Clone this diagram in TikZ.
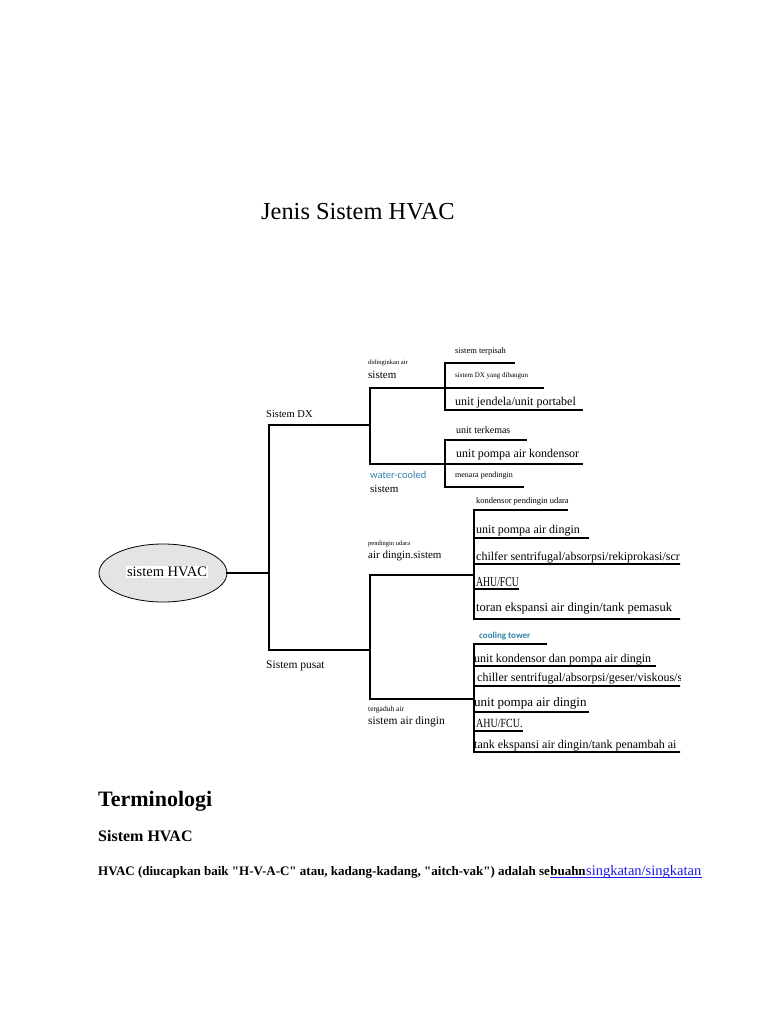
\documentclass[tikz,border=0pt]{standalone}
\usepackage{fontspec}
\setmainfont{Liberation Serif}[Ligatures=TeXOff]
\newfontfamily\cleanfont{Carlito}
\usetikzlibrary{shapes.geometric,positioning}
\definecolor{hvacgray}{RGB}{228,228,228}
\definecolor{cooledblue}{RGB}{47,131,174}
\definecolor{linkblue}{RGB}{25,25,235}
\tikzset{
  branch/.style={
    line width=2pt,
    line cap=rect
  },
  lbl/.style={
    anchor=base west,
    inner sep=0pt,
    font=\fontsize{11}{13}\selectfont
  },
  tinylbl/.style={
    anchor=base west,
    inner sep=0pt,
    font=\fontsize{6.5}{7.5}\selectfont
  },
  smalllbl/.style={
    anchor=base west,
    inner sep=0pt,
    font=\fontsize{8.5}{10}\selectfont
  },
  leaf/.style={
    anchor=base west,
    inner sep=0pt,
    font=\fontsize{12}{14}\selectfont
  },
  cooled/.style={
    anchor=base west,
    inner sep=0pt,
    text=cooledblue,
    font=\cleanfont\fontsize{10.5}{12}\selectfont
  }
}

\begin{document}
\begin{tikzpicture}[x=1pt,y=-1pt]
    \useasboundingbox (0,0) rectangle (768,1024);
    \node[anchor=base west, inner sep=0pt, font=\fontsize{24.4}{28}\selectfont] (title) at (261,220) {Jenis Sistem HVAC};

    % root
    \node[draw, ellipse, fill=hvacgray, line width=0.8pt, minimum width=128pt, minimum height=58pt] (hvac) at (163,573) {};
    \node[fill=white, inner sep=1pt, font=\fontsize{14.5}{17}\selectfont] (hvactext) at (167,572) {sistem HVAC};

    % junctions
    \coordinate (j0) at (269,573);
    \coordinate (dxj) at (370,425);
    \coordinate (psj) at (370,650);
    \coordinate (ga) at (445,388);
    \coordinate (gw) at (445,464);
    \coordinate (pa) at (474,575);
    \coordinate (pw) at (474,699);
    % leaf ends
    \coordinate (a1) at (514,363);
    \coordinate (a2) at (543,388);
    \coordinate (a3) at (582,410);
    \coordinate (w1) at (526,440);
    \coordinate (w2) at (582,464);
    \coordinate (w3) at (523,487);
    \coordinate (pa1) at (567,510);
    \coordinate (pa2) at (588,538);
    \coordinate (pa3) at (680,564);
    \coordinate (pa4) at (518,589);
    \coordinate (pa5) at (680,619);
    \coordinate (pw1) at (546,644);
    \coordinate (pw2) at (655,666);
    \coordinate (pw3) at (680,686);
    \coordinate (pw4) at (588,712);
    \coordinate (pw5) at (522,731);
    \coordinate (pw6) at (680,752);

    \begin{scope}
    \clip (0,0) rectangle (680,1024);
    \draw[branch] (hvac.east) -- (j0);
    \draw[branch] (dxj) -| (j0) |- (psj);
    \draw[branch] (a2) -| (dxj) |- (w2);
    \draw[branch] (a1) -| (ga) |- (a3);
    \draw[branch] (w1) -| (gw) |- (w3);
    \draw[branch] (pa) -| (psj) |- (pw);
    \draw[branch] (pa1) -| (pa) |- (pa5);
    \draw[branch] (pw1) -| (pw) |- (pw6);
    \foreach \leafend in {pa2,pa3,pa4}
        \draw[branch] (pa |- \leafend) -- (\leafend);
    \foreach \leafend in {pw2,pw3,pw4,pw5}
        \draw[branch] (pw |- \leafend) -- (\leafend);

    % level 1
    \node[lbl, font=\fontsize{10.5}{12}\selectfont] (dxlabel) at (266,417) {Sistem DX};
    \node[lbl, font=\fontsize{11.5}{13}\selectfont] (pusatlabel) at (266,668) {Sistem pusat};

    % direct expansion
    \node[tinylbl] (airtop) at (368,364) {didinginkan air};
    \node[lbl] (airsys) at (368,378) {sistem};
    \node[cooled] (water) at (370,478) {water-cooled};
    \node[lbl] (watersys) at (370,492) {sistem};
    \node[smalllbl] (split) at (455,353) {sistem terpisah};
    \node[tinylbl, font=\fontsize{7}{8}\selectfont] (builtdx) at (455,377) {sistem DX yang dibangun};
    \node[leaf] (window) at (455,405) {unit jendela/unit portabel};
    \node[lbl, font=\fontsize{10}{12}\selectfont] (packaged) at (456,433) {unit terkemas};
    \node[leaf] (condpump) at (456,457) {unit pompa air kondensor};
    \node[smalllbl, font=\fontsize{8}{9}\selectfont] (tower) at (455,477) {menara pendingin};

    % central, air cooled
    \node[tinylbl] (aircooltop) at (368,545) {pendingin udara};
    \node[lbl] (aircoolsys) at (368,558) {air dingin.sistem};
    \node[smalllbl] (aircond) at (476,503) {kondensor pendingin udara};
    \node[leaf] (chwpump) at (476,533) {unit pompa air dingin};
    \node[leaf] (chiller) at (476,560) {chilfer sentrifugal/absorpsi/rekiprokasi/scr};
    \node[leaf, font=\fontsize{13.5}{15}\selectfont] (ahu) at (476,586) {\scalebox{0.72}[1]{AHU/FCU}};
    \node[leaf, font=\fontsize{12.5}{14}\selectfont] (tank) at (476,611) {toran ekspansi air dingin/tank pemasuk};

    % central, water cooled
    \node[tinylbl, font=\fontsize{7.5}{8.5}\selectfont] (wcooltop) at (368,711) {tergaduh air};
    \node[lbl, font=\fontsize{11.5}{13}\selectfont] (wcoolsys) at (368,724) {sistem air dingin};
    \node[cooled, font=\cleanfont\bfseries\fontsize{9}{11}\selectfont] (cooltower) at (479,638) {cooling tower};
    \node[leaf] (condunit) at (474,662) {unit kondensor dan pompa air dingin};
    \node[leaf] (chiller2) at (477,681) {chiller sentrifugal/absorpsi/geser/viskous/s};
    \node[leaf, font=\fontsize{13}{15}\selectfont] (chwpump2) at (474,706) {unit pompa air dingin};
    \node[leaf, font=\fontsize{12.5}{14}\selectfont] (ahu2) at (476,727) {\scalebox{0.8}[1]{AHU/FCU.}};
    \node[leaf] (tank2) at (474,748) {tank ekspansi air dingin/tank penambah ai};
    \end{scope}

    % text below
    \node[anchor=base west, inner sep=0pt, font=\bfseries\fontsize{22}{26}\selectfont] (termhead) at (98,806) {Terminologi};
    \node[anchor=base west, inner sep=0pt, font=\bfseries\fontsize{16}{19}\selectfont] (subhead) at (98,841) {Sistem HVAC};
    \node[anchor=base west, inner sep=0pt, font=\bfseries\fontsize{13}{15}\selectfont] (defn) at (98,875) {HVAC (diucapkan baik "H-V-A-C" atau, kadang-kadang, "aitch-vak") adalah se};
    \node[anchor=base west, inner sep=0pt, font=\bfseries\fontsize{13}{15}\selectfont] (buahn) at (defn.base east) {buahn};
    \node[anchor=base west, inner sep=0pt, text=linkblue, font=\fontsize{14.5}{17}\selectfont] (link) at (buahn.base east) {singkatan/singkatan};
    \draw[linkblue, line width=0.8pt] ([yshift=-2pt]buahn.base west) -- ([yshift=-2pt]link.base east);
\end{tikzpicture}
\end{document}
